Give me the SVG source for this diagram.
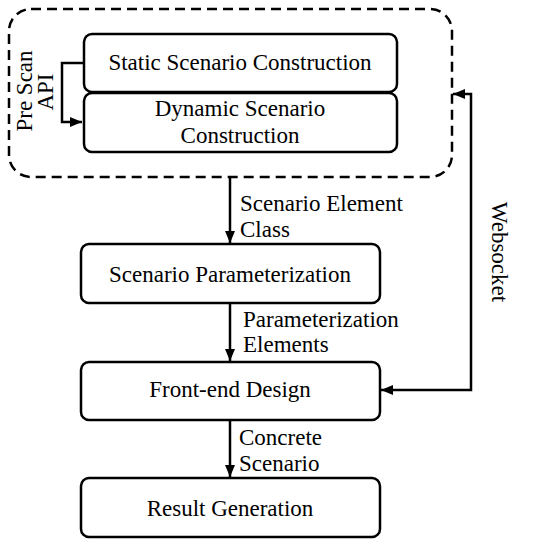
<svg xmlns="http://www.w3.org/2000/svg" width="550" height="547" viewBox="0 0 550 547">
<defs>
<marker id="ah" viewBox="0 0 12 10" refX="12" refY="5" markerWidth="12" markerHeight="10" markerUnits="userSpaceOnUse" orient="auto-start-reverse">
<path d="M0,0 L12,5 L0,10 z" fill="#000"/>
</marker>
<style>
.box{fill:#fff;stroke:#000;stroke-width:2.5}
.t{font-family:"Liberation Serif",serif;font-size:23px;fill:#000}
.c{text-anchor:middle}
.ln{fill:none;stroke:#000;stroke-width:2.5}
</style>
</defs>
<rect width="550" height="547" fill="#fff"/>
<g id="prescan">
<rect x="9" y="9" width="443" height="168" rx="22" fill="none" stroke="#000" stroke-width="2.5" stroke-dasharray="10,6"/>
<text class="t c" transform="translate(32,91) rotate(-90)">Pre Scan</text>
<text class="t c" transform="translate(53,92) rotate(-90)">API</text>
</g>
<g id="static">
<rect class="box" x="84" y="34" width="313" height="58" rx="8"/>
<text class="t c" x="240" y="70">Static Scenario Construction</text>
</g>
<g id="dynamic">
<rect class="box" x="84" y="93" width="313" height="59" rx="8"/>
<text class="t c" x="240" y="116">Dynamic Scenario</text>
<text class="t c" x="240" y="143">Construction</text>
</g>
<g id="param">
<rect class="box" x="81" y="244" width="299" height="59" rx="8"/>
<text class="t c" x="230" y="282">Scenario Parameterization</text>
</g>
<g id="frontend">
<rect class="box" x="81" y="362" width="299" height="58" rx="8"/>
<text class="t c" x="230" y="397">Front-end Design</text>
</g>
<g id="result">
<rect class="box" x="81" y="478" width="299" height="59" rx="8"/>
<text class="t c" x="230" y="516">Result Generation</text>
</g>
<g id="connectors">
<path class="ln" d="M84,63 H62 V122 H82" marker-end="url(#ah)"/>
<path class="ln" d="M230,177 V243" marker-end="url(#ah)"/>
<path class="ln" d="M230,303 V361" marker-end="url(#ah)"/>
<path class="ln" d="M230,420 V477" marker-end="url(#ah)"/>
<path class="ln" d="M381,390 H471 V94 H453" marker-start="url(#ah)" marker-end="url(#ah)"/>
<text class="t" x="240" y="211">Scenario Element</text>
<text class="t" x="240" y="237">Class</text>
<text class="t" x="243" y="327">Parameterization</text>
<text class="t" x="243" y="352">Elements</text>
<text class="t" x="239" y="445">Concrete</text>
<text class="t" x="239" y="471">Scenario</text>
<text class="t c" transform="translate(492,252) rotate(90)">Websocket</text>
</g>
</svg>
